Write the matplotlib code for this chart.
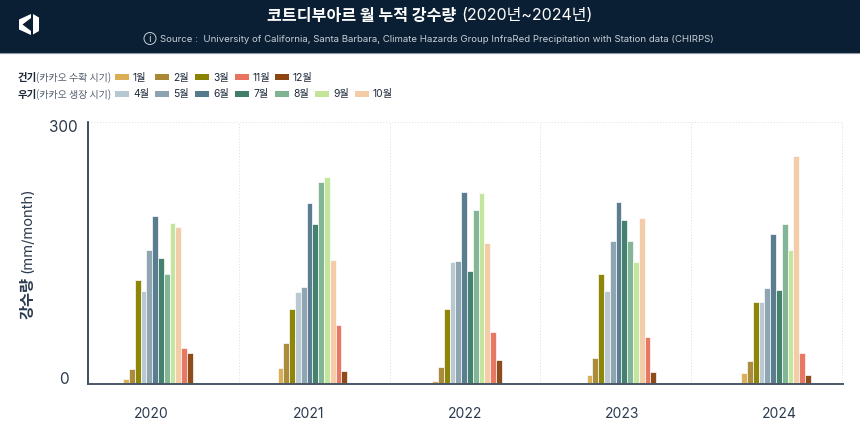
import matplotlib
matplotlib.use("Agg")
import matplotlib.pyplot as plt
from matplotlib.patches import Rectangle, Polygon, Circle

LATIN = ["Inter", "Noto Sans CJK KR"]
plt.rcParams["font.family"] = ["Noto Sans CJK KR", "DejaVu Sans"]
plt.rcParams["axes.unicode_minus"] = False

years = ["2020", "2021", "2022", "2023", "2024"]
months = ["1월", "2월", "3월", "4월", "5월", "6월", "7월", "8월", "9월", "10월", "11월", "12월"]
month_colors = ["#D9AE55", "#A88735", "#8A8200", "#B8C8D0", "#8CA2B0", "#557A8C",
                "#3F7D6A", "#7FB394", "#C2E59A", "#F3CBA5", "#E8735F", "#8C4513"]

rain_2020 = [6, 17, 119, 107, 153, 192, 144, 126, 184, 180, 41, 36]
rain_2021 = [18, 47, 86, 105, 111, 207, 183, 231, 237, 142, 68, 15]
rain_2022 = [4, 19, 86, 140, 141, 220, 129, 199, 219, 161, 59, 28]
rain_2023 = [10, 30, 126, 106, 164, 208, 188, 164, 140, 190, 54, 14]
rain_2024 = [13, 26, 94, 94, 110, 172, 108, 183, 154, 261, 35, 10]
rain_all = [rain_2020, rain_2021, rain_2022, rain_2023, rain_2024]

dry_months = ["1월", "2월", "3월", "11월", "12월"]
wet_months = ["4월", "5월", "6월", "7월", "8월", "9월", "10월"]

NAVY = "#0A1F33"
TEXT = "#2B3A4E"
W, H = 860, 445

fig = plt.figure(figsize=(W / 100, H / 100), dpi=100, facecolor="white")

# 픽셀 좌표용 오버레이
bg = fig.add_axes([0, 0, 1, 1], zorder=0)
bg.set_xlim(0, W)
bg.set_ylim(H, 0)
bg.axis("off")

# 상단 헤더
bg.add_patch(Rectangle((0, 0), W, 53, color=NAVY, lw=0))
bg.plot([0, W], [53, 53], color="#8B98A6", lw=0.8)
bg.add_patch(Polygon([(33, 14), (39, 17.5), (39, 31), (33, 34.5)], closed=True, color="white", lw=0))
bg.add_patch(Polygon([(31, 14), (19, 19.5), (19, 29.5), (31, 35), (31, 31), (22.5, 24.5), (31, 18)],
                     closed=True, color="white", lw=0))

bg.text(267, 15.5, "코트디부아르 월 누적 강수량", color="white", fontsize=11.6, fontweight="bold",
        ha="left", va="center")
bg.text(461, 15.5, "(2020년~2024년)", color="white", fontsize=11.5, family=LATIN, ha="left", va="center")
bg.add_patch(Circle((150, 38.5), 6, fill=False, ec="#C8D0D8", lw=0.7))
bg.text(150, 38.5, "i", color="#C8D0D8", fontsize=7, ha="center", va="center")
bg.text(160, 39, "Source :  University of California, Santa Barbara, Climate Hazards Group InfraRed Precipitation with Station data (CHIRPS)",
        color="#C8D0D8", fontsize=6.93, family=LATIN, ha="left", va="center")


def legend_row(y, head, sub, names):
    bg.text(18, y + 1, head, color="#1E2A3A", fontsize=7.5, fontweight="bold", ha="left", va="center")
    bg.text(36, y + 1, sub, color="#55606E", fontsize=7.2, ha="left", va="center")
    for i, name in enumerate(names):
        x = 115 + 40 * i
        bg.add_patch(Rectangle((x, y - 3), 13.5, 6, color=month_colors[months.index(name)], lw=0))
        bg.text(x + 18, y + 0.5, name, color="#1E2A3A", fontsize=7.4, family=LATIN, ha="left", va="center")


legend_row(77, "건기", "(카카오 수확 시기)", dry_months)
legend_row(94, "우기", "(카카오 생장 시기)", wet_months)

# 막대 차트
ax = fig.add_axes([88 / W, (H - 384) / H, 755 / W, 262 / H], zorder=1)
ax.patch.set_alpha(0)
ax.set_xlim(-0.453, 4.434)
ax.set_ylim(0, 300)

bar_step = 5.8 / 154.5
for yi, vals in enumerate(rain_all):
    for mi, v in enumerate(vals):
        ax.bar(yi + (mi - 5.5) * bar_step, v, width=bar_step, color=month_colors[mi],
               edgecolor="white", linewidth=0.5, alpha=0.97, zorder=3)

# 연도 구분 점선
for k in range(1, 6):
    ax.axvline(-0.453 + k * 150.8 / 154.5, color="#DDDDDD", lw=0.7, ls=(0, (1, 2)), zorder=1)
ax.axhline(300, color="#DDDDDD", lw=0.7, ls=(0, (1, 2)), zorder=1)

for s in ["top", "right"]:
    ax.spines[s].set_visible(False)
ax.spines["left"].set_color("#1E2F45")
ax.spines["left"].set_linewidth(1.2)
ax.spines["bottom"].set_color("#4A5766")
ax.spines["bottom"].set_linewidth(1.4)
ax.spines["bottom"].set_zorder(5)
ax.set_xticks([])
ax.set_yticks([])

for i, year in enumerate(years):
    bg.text(151.5 + 157 * i, 414.5, year, color=TEXT, fontsize=10, family=LATIN, ha="center", va="center")

bg.text(78, 127, "300", color=TEXT, fontsize=11, family=LATIN, ha="right", va="center")
bg.text(69, 379, "0", color=TEXT, fontsize=11, family=LATIN, ha="right", va="center")
bg.text(27, 298, "강수량", color=TEXT, fontsize=11, fontweight="bold", rotation=90, ha="center", va="center")
bg.text(27, 230.5, "(mm/month)", color=TEXT, fontsize=10.6, family=LATIN, rotation=90, ha="center", va="center")

fig.savefig("out.png", dpi=100)
